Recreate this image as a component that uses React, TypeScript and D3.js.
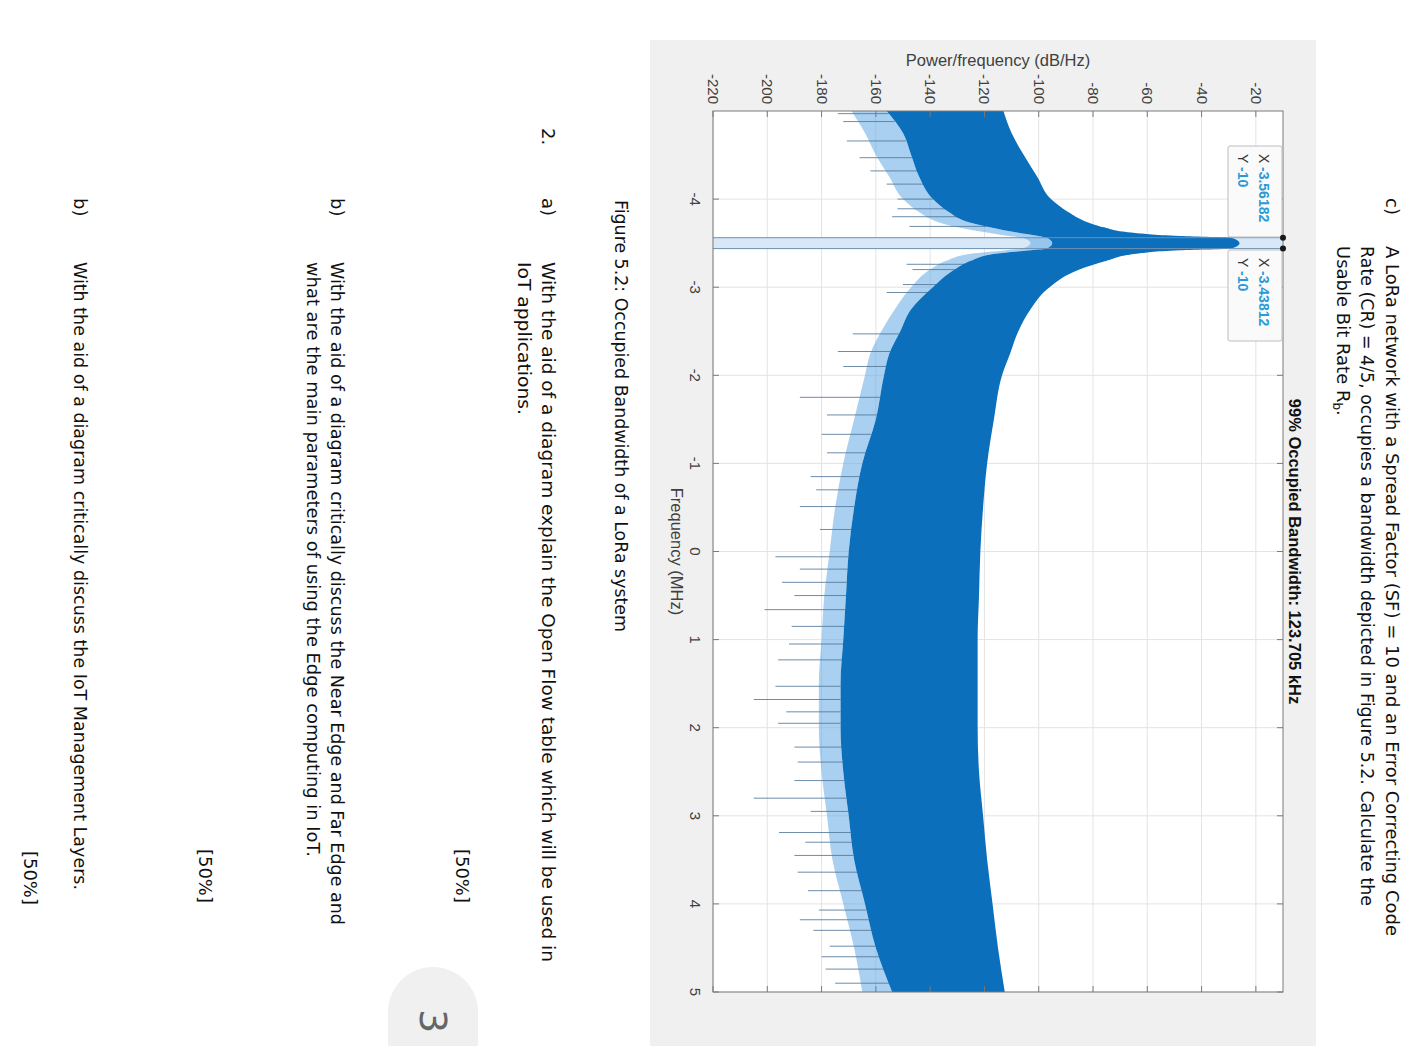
import React from 'react';
import * as d3 from 'd3';

// ---------- data ----------
const freqMHz = [-5, -4.75, -4.5, -4.25, -4, -3.85, -3.75, -3.68, -3.62, -3.58, -3.56, -3.5, -3.44, -3.42, -3.38, -3.3, -3.2, -3.0, -2.75, -2.5, -2.25, -2, -1.5, -1, -0.5, 0, 0.5, 1, 1.5, 2, 2.5, 3, 3.5, 4, 4.5, 5];
const upperDb = [-113, -110, -105.5, -100.5, -95.5, -89, -83, -76, -66, -48, -29, -26, -29, -48, -64, -75, -85, -96, -103, -107.5, -110.5, -113.5, -116.5, -119, -120.5, -121.5, -122, -122.5, -122.5, -122.5, -122, -120.5, -119, -117, -115, -112.5];
const lowerDb = [-156, -150, -147, -144, -139, -133, -127, -118, -108, -100, -97, -95, -97, -103, -116, -125, -131, -139, -147, -151, -155, -157, -160, -165, -168, -170, -171, -172, -173, -173, -172, -170, -168, -164, -160, -154];
const fringeDb = [-169, -164, -160, -155, -150, -144, -138, -130, -119, -111, -106, -103, -106, -112, -125, -134, -140, -147, -153, -158, -162, -164, -168, -172, -175, -177, -179, -180, -181, -181, -180, -178, -176, -172, -168, -165];

const spikeFreq = [-4.97, -4.88, -4.66, -4.47, -4.32, -4.17, -4.0, -3.89, -3.8, -3.69, -3.26, -3.2, -3.03, -2.94, -2.47, -2.27, -2.1, -1.75, -1.55, -1.33, -1.12, -0.85, -0.7, -0.51, -0.25, 0.06, 0.2, 0.35, 0.5, 0.66, 0.85, 1.05, 1.23, 1.53, 1.68, 1.82, 1.95, 2.22, 2.39, 2.6, 2.8, 2.95, 3.19, 3.3, 3.45, 3.64, 3.85, 4.07, 4.18, 4.3, 4.48, 4.6, 4.74, 4.9];
const spikeDb = [-174, -172, -170.7, -166, -162, -156, -152, -152, -154, -147.6, -148.7, -146.5, -150, -156, -168.5, -174, -172, -188, -178, -180, -178, -184, -182, -188, -180.6, -197, -188, -194.6, -190, -201, -191, -192, -196, -197, -205, -193, -196, -190, -188.8, -190, -205, -184, -195.7, -186, -190, -188.8, -185, -181, -188, -183, -177, -180, -178.5, -175];

const xTicks = [-4, -3, -2, -1, 0, 1, 2, 3, 4, 5];
const yTicks = [-220, -200, -180, -160, -140, -120, -100, -80, -60, -40, -20];
const obwLow = -3.56182;
const obwHigh = -3.43812;
const obwTipY = -10;

const questionLines = [
  'A LoRa network with a Spread Factor (SF) = 10 and an Error Correcting Code',
  'Rate (CR) = 4/5, occupies a bandwidth depicted in Figure 5.2. Calculate the',
];

// ---------- layout (page frame, later rotated 90deg) ----------
const PW = 1046; // page width (image height)
const PH = 1427; // page height (image width)
const L = 111, R = 992, T = 144, B = 714;

const x = d3.scaleLinear().domain([-5, 5]).range([L, R]);
const y = d3.scaleLinear().domain([-220, -10]).range([B, T]);

const interp = (arr: number[], f: number) => {
  const i = Math.max(0, Math.min(freqMHz.length - 2, d3.bisectRight(freqMHz, f) - 1));
  const t = (f - freqMHz[i]) / (freqMHz[i + 1] - freqMHz[i]);
  return arr[i] + t * (arr[i + 1] - arr[i]);
};

const idx = freqMHz.map((_, i) => i);
const solidArea = d3.area<number>()
  .x(i => x(freqMHz[i]))
  .y0(i => y(lowerDb[i]))
  .y1(i => y(upperDb[i]))
  .curve(d3.curveMonotoneX);
const fringeArea = d3.area<number>()
  .x(i => x(freqMHz[i]))
  .y0(i => y(fringeDb[i]))
  .y1(i => y(lowerDb[i]))
  .curve(d3.curveMonotoneX);

const TXT = "'DejaVu Sans', Verdana, sans-serif";
const AX = "'Liberation Sans', Arial, Helvetica, sans-serif";

function DataTip({ u0, w, xv }: { u0: number; w: number; xv: number }) {
  return (
    <g>
      <rect x={u0} y={T + 1} width={w} height={54} rx={2} fill="#fafafa" stroke="#bdbdbd" />
      <text x={u0 + 8} y={T + 24} fontFamily={AX} fontSize={14} fill="#333">X</text>
      <text x={u0 + 21} y={T + 24} fontFamily={AX} fontSize={14} fontWeight="bold" fill="#2a9ad6">{String(xv)}</text>
      <text x={u0 + 8} y={T + 45} fontFamily={AX} fontSize={14} fill="#333">Y</text>
      <text x={u0 + 21} y={T + 45} fontFamily={AX} fontSize={14} fontWeight="bold" fill="#2a9ad6">{String(obwTipY)}</text>
    </g>
  );
}

export default function App() {
  return (
    <svg width={1427} height={1046} style={{ position: 'absolute', left: 0, top: 0, display: 'block' }}>
      <rect width={1427} height={1046} fill="#ffffff" />
      <g transform={`translate(${PH},0) rotate(90)`}>
        {/* gray figure panel */}
        <rect x={40} y={111} width={PW - 40} height={666} fill="#f0f0f0" />
        <rect x={L} y={T} width={R - L} height={B - T} fill="#ffffff" />
        <defs>
          <clipPath id="plotclip"><rect x={L} y={T} width={R - L} height={B - T} /></clipPath>
        </defs>
        {/* grid */}
        {xTicks.map(t => <line key={'gx' + t} x1={x(t)} x2={x(t)} y1={T} y2={B} stroke="#e3e3e3" />)}
        {yTicks.map(t => <line key={'gy' + t} x1={L} x2={R} y1={y(t)} y2={y(t)} stroke="#e3e3e3" />)}
        {/* occupied band */}
        <rect x={x(obwLow)} y={T} width={x(obwHigh) - x(obwLow)} height={B - T} fill="#d8e8f6" />
        <g clipPath="url(#plotclip)">
          <path d={fringeArea(idx) || ''} fill="#63a9e4" opacity={0.55} />
          {spikeFreq.map((f, i) => (
            <line key={'s' + i} x1={x(f)} x2={x(f)} y1={y(interp(lowerDb, f))} y2={y(spikeDb[i])} stroke="#55799a" strokeWidth={1} opacity={0.85} />
          ))}
          <path d={solidArea(idx) || ''} fill="#0b6fbc" />
        </g>
        <line x1={x(obwLow)} x2={x(obwLow)} y1={T} y2={B} stroke="#6f90b2" />
        <line x1={x(obwHigh)} x2={x(obwHigh)} y1={T} y2={B} stroke="#6f90b2" />
        {/* frame & ticks */}
        <rect x={L} y={T} width={R - L} height={B - T} fill="none" stroke="#7a7a7a" />
        {xTicks.map(t => (
          <g key={'tx' + t}>
            <line x1={x(t)} x2={x(t)} y1={B} y2={B - 6} stroke="#7a7a7a" />
            <line x1={x(t)} x2={x(t)} y1={T} y2={T + 6} stroke="#7a7a7a" />
            <text x={x(t)} y={737} textAnchor="middle" fontFamily={AX} fontSize={15} fill="#404040">{String(t)}</text>
          </g>
        ))}
        {yTicks.map(t => (
          <g key={'ty' + t}>
            <line x1={L} x2={L + 6} y1={y(t)} y2={y(t)} stroke="#7a7a7a" />
            <line x1={R} x2={R - 6} y1={y(t)} y2={y(t)} stroke="#7a7a7a" />
            <text x={104} y={y(t) + 5} textAnchor="end" fontFamily={AX} fontSize={15} fill="#404040">{String(t)}</text>
          </g>
        ))}
        <text x={(L + R) / 2} y={756} textAnchor="middle" fontFamily={AX} fontSize={16.5} fill="#404040">Frequency (MHz)</text>
        <text transform={`translate(66,${(T + B) / 2}) rotate(-90)`} textAnchor="middle" fontFamily={AX} fontSize={16.5} fill="#404040">Power/frequency (dB/Hz)</text>
        <text x={(L + R) / 2} y={138} textAnchor="middle" fontFamily={AX} fontSize={16.5} fontWeight="bold" fill="#111">99% Occupied Bandwidth: 123.705 kHz</text>
        {/* data tips */}
        <DataTip u0={146} w={91} xv={obwLow} />
        <DataTip u0={250} w={91} xv={obwHigh} />
        <circle cx={x(obwLow)} cy={y(obwTipY)} r={3} fill="#1a1a1a" />
        <circle cx={x(obwHigh)} cy={y(obwTipY)} r={3} fill="#1a1a1a" />

        {/* document text */}
        <text x={198} y={41} fontFamily={TXT} fontSize={18} fill="#111">c)</text>
        <text x={246} y={41} fontFamily={TXT} fontSize={18} fill="#111" textLength={690} lengthAdjust="spacingAndGlyphs">{questionLines[0]}</text>
        <text x={246} y={66} fontFamily={TXT} fontSize={18} fill="#111" textLength={660} lengthAdjust="spacingAndGlyphs">{questionLines[1]}</text>
        <text x={246} y={90} fontFamily={TXT} fontSize={18} fill="#111">Usable Bit Rate R<tspan fontSize={12} dy={4}>b</tspan><tspan dy={-4}>.</tspan></text>

        <text x={200} y={812} fontFamily={TXT} fontSize={18} fill="#111" textLength={432} lengthAdjust="spacingAndGlyphs">Figure 5.2: Occupied Bandwidth of a LoRa system</text>

        <text x={128} y={885} fontFamily={TXT} fontSize={18} fill="#111">2.</text>
        <text x={198} y={885} fontFamily={TXT} fontSize={18} fill="#111">a)</text>
        <text x={262} y={885} fontFamily={TXT} fontSize={18} fill="#111" textLength={700} lengthAdjust="spacingAndGlyphs">With the aid of a diagram explain the Open Flow table which will be used in</text>
        <text x={262} y={909} fontFamily={TXT} fontSize={18} fill="#111" textLength={153} lengthAdjust="spacingAndGlyphs">IoT applications.</text>
        <text x={903} y={971} textAnchor="end" fontFamily={TXT} fontSize={18} fill="#111">[50%]</text>

        <text x={198} y={1096} fontFamily={TXT} fontSize={18} fill="#111">b)</text>
        <text x={262} y={1096} fontFamily={TXT} fontSize={18} fill="#111" textLength={663} lengthAdjust="spacingAndGlyphs">With the aid of a diagram critically discuss the Near Edge and Far Edge and</text>
        <text x={262} y={1120} fontFamily={TXT} fontSize={18} fill="#111" textLength={595} lengthAdjust="spacingAndGlyphs">what are the main parameters of using the Edge computing in IoT.</text>
        <text x={903} y={1228} textAnchor="end" fontFamily={TXT} fontSize={18} fill="#111">[50%]</text>

        <text x={198} y={1353} fontFamily={TXT} fontSize={18} fill="#111">b)</text>
        <text x={262} y={1353} fontFamily={TXT} fontSize={18} fill="#111" textLength={628} lengthAdjust="spacingAndGlyphs">With the aid of a diagram critically discuss the IoT Management Layers.</text>
        <text x={905} y={1403} textAnchor="end" fontFamily={TXT} fontSize={18} fill="#111">[50%]</text>

        {/* page number tab */}
        <rect x={967} y={949} width={160} height={90} rx={45} fill="#f0f0f0" />
        <text x={1021} y={1007} textAnchor="middle" fontFamily={TXT} fontSize={38} fill="#666">3</text>
      </g>
    </svg>
  );
}
